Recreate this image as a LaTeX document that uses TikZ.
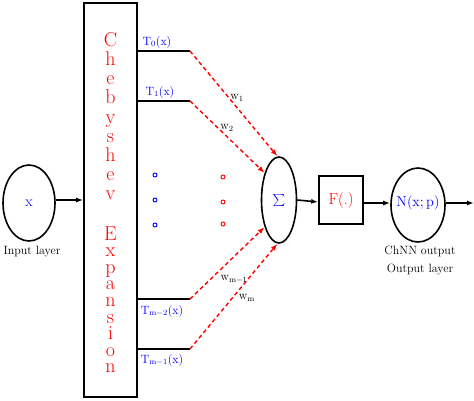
\documentclass[tikz,border=0pt]{standalone}
\usepackage{amsmath}
\usetikzlibrary{shapes.geometric,arrows.meta}
\setlength{\lineskiplimit}{-100pt}
\begin{document}
\begin{tikzpicture}[x=1pt,y=-1pt,
  blk/.style={line width=1.6pt},
  tip/.style={-{Latex[length=7pt,width=5pt]}},
  wline/.style={red,line width=1.4pt,dash pattern=on 4pt off 3pt,-{Latex[length=7pt,width=5pt]}},
  tlab/.style={blue,font=\fontsize{12}{14}\selectfont,inner sep=0pt},
  wlab/.style={black,font=\fontsize{11.5}{12}\selectfont,inner sep=0pt},
  captxt/.style={black,font=\fontsize{12}{14}\selectfont,inner sep=0pt},
  bdot/.style={circle,draw=blue,line width=0.9pt,inner sep=0pt,minimum size=4pt},
  rdot/.style={circle,draw=red,line width=0.9pt,inner sep=0pt,minimum size=4pt}]
\useasboundingbox (0,0) rectangle (474,400);
% input
\node[draw,ellipse,blk,minimum width=52pt,minimum height=76pt,inner sep=0pt] (in) at (29,203) {};
\node[blue,font=\fontsize{15}{15}\selectfont] (inx) at (29,203) {x};
\node[captxt] (inlab) at (32,252) {Input layer};
% expansion box
\node[draw,blk,minimum width=53pt,minimum height=394pt,inner sep=0pt] (box) at (110.5,200) {};
\draw[blk,tip] (in.east |- 0,200) -- (box.west |- 0,200);
\node[red,anchor=north,inner sep=0pt,align=center,
  font=\fontsize{20}{19.1}\selectfont] (cheb) at (110.5,32.5)
  {C\\h\\e\\b\\y\\s\\h\\e\\v};
\node[red,anchor=north,inner sep=0pt,align=center,
  font=\fontsize{20}{16.6}\selectfont] (expa) at (110.5,226.3)
  {E\\x\\p\\a\\n\\s\\i\\o\\n};
% outputs
\coordinate (e0) at (190,51);
\coordinate (e1) at (190,101);
\coordinate (e2) at (190,299);
\coordinate (e3) at (190,349);
\draw[blk] (box.east |- e0) -- (e0);
\draw[blk] (box.east |- e1) -- (e1);
\draw[blk] (box.east |- e2) -- (e2);
\draw[blk] (box.east |- e3) -- (e3);
\node[tlab] (t0) at (157,42) {$\mathrm{T_0(x)}$};
\node[tlab] (t1) at (160,92) {$\mathrm{T_1(x)}$};
\node[tlab] (t2) at (162,311) {$\mathrm{T_{m-2}(x)}$};
\node[tlab] (t3) at (162,360) {$\mathrm{T_{m-1}(x)}$};
% dots
\node[bdot] (b1) at (155,175) {};
\node[bdot] (b2) at (155,200) {};
\node[bdot] (b3) at (155,225) {};
\node[rdot] (r1) at (223,177) {};
\node[rdot] (r2) at (223,202) {};
\node[rdot] (r3) at (223,224) {};
% sum
\node[draw,ellipse,blk,minimum width=35pt,minimum height=86pt,inner sep=0pt] (sig) at (279,200) {};
\node[blue,font=\fontsize{13}{13}\selectfont] (sigs) at (279,200) {$\sum$};
\draw[wline] (e0) -- (sig.92);
\draw[wline] (e1) -- (sig.118);
\draw[wline] (e2) -- (sig.242);
\draw[wline] (e3) -- (sig.268);
\node[wlab] (w1) at (237,98) {$\mathrm{w_1}$};
\node[wlab] (w2) at (227,128) {$\mathrm{w_2}$};
\node[wlab] (w3) at (234,279) {$\mathrm{w_{m-1}}$};
\node[wlab] (w4) at (247,298) {$\mathrm{w_m}$};
% F and N
\node[draw,blk,minimum width=44pt,minimum height=48pt,inner sep=0pt] (F) at (341,200) {};
\node[red,font=\fontsize{16}{16}\selectfont] (Ft) at (341,201) {F(.)};
\node[draw,ellipse,blk,minimum width=54pt,minimum height=74pt,inner sep=0pt] (N) at (418,205) {};
\node[blue,font=\fontsize{14}{14}\selectfont] (Nt) at (418,203) {$\mathrm{N(x;p)}$};
\coordinate (out) at (474,203);
\draw[blk,tip] (sig.east) -- (F.west |- 0,202);
\draw[blk,tip] (F.east |- 0,203) -- (N.west |- 0,203);
\draw[blk,tip] (N.east |- 0,203) -- (out);
\node[captxt] (c1) at (420,251) {ChNN output};
\node[captxt] (c2) at (420,269) {Output layer};
\end{tikzpicture}
\end{document}
